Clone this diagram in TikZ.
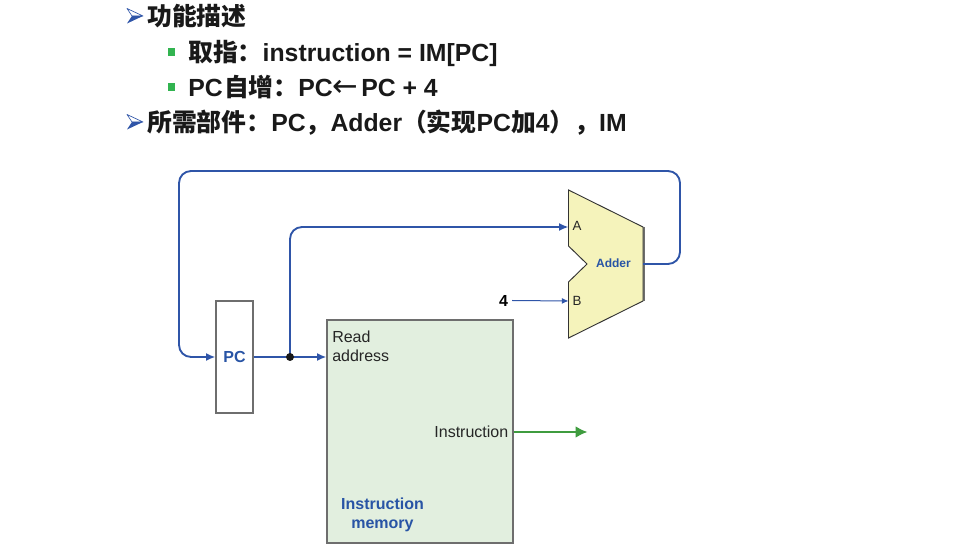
\documentclass[tikz,border=0pt]{standalone}
\usepackage{fontspec}
\usetikzlibrary{arrows.meta}
\setmainfont{Liberation Sans}
\newfontfamily\cjk{Noto Sans CJK SC}
\newcommand{\zh}[1]{{\cjk #1}}
\definecolor{busblue}{RGB}{47,85,168}
\definecolor{labelblue}{RGB}{40,84,165}
\definecolor{addfill}{RGB}{245,243,187}
\definecolor{memfill}{RGB}{226,239,223}
\definecolor{outgreen}{RGB}{63,156,63}
\definecolor{edgegray}{RGB}{110,110,110}
\definecolor{bulgreen}{RGB}{50,180,80}
\tikzset{
	headline/.style={anchor=west, inner sep=0pt, text height=19pt, text depth=4pt, font=\fontsize{18.6}{22}\selectfont\bfseries, text=black!90},
	unitlabel/.style={font=\fontsize{12}{14.25}\selectfont\bfseries, text=labelblue, align=center, inner sep=0pt},
	portlabel/.style={font=\fontsize{12}{14.25}\selectfont, text=black!85, inner sep=0pt, align=left},
	smalllabel/.style={font=\fontsize{10}{12}\selectfont, text=black!85, inner sep=0pt},
	bus/.style={draw=busblue, line width=1.4pt, -{Latex[length=7pt,width=6pt]}},
	bullet/.style={fill=bulgreen, minimum size=5.5pt, inner sep=0pt}
}
\begin{document}
\begin{tikzpicture}[x=0.75pt, y=-0.75pt]
	\useasboundingbox (0,0) rectangle (976,556);

	% Text lines at the top
	\foreach \ypos in {16, 122} {
		\draw [busblue, fill=white, line width=0.5pt, line join=round] (127,\ypos-7.5) -- (143,\ypos) -- (132,\ypos) -- cycle;
		\fill [busblue] (143,\ypos) -- (127,\ypos+7.5) -- (132,\ypos) -- cycle;
	}
	\node [headline] (lineone) at (147,16) {\zh{功能描述}};
	\node [bullet] (bulone) at (171.5,52) {};
	\node [headline] (linetwo) at (188,52) {\zh{取指：}instruction = IM[PC]};
	\node [bullet] (bultwo) at (171.5,87) {};
	\node [headline] (linethree) at (188,87) {PC\kern1pt\zh{自增：}PC{\fontspec{DejaVu Sans}\mdseries\fontsize{23}{22}\selectfont←}\kern2pt PC + 4};
	\node [headline] (linefour) at (147,122) {\zh{所需部件：}PC\zh{，}Adder\zh{（实现}PC\zh{加}4\zh{），}IM};

	% The two boxes
	\node [draw=edgegray, fill=white, line width=0.8pt, minimum width=27.75pt, minimum height=84pt, inner sep=0pt] (pc) at (234.5,357) {};
	\node [unitlabel] (pclabel) at (pc.center) {PC};
	\node [draw=edgegray, fill=memfill, line width=0.8pt, minimum width=139.5pt, minimum height=167.25pt, inner sep=0pt] (im) at (420,431.5) {};
	\node [portlabel, anchor=north west] (readaddr) at (332,331) {Read\\address};
	\node [portlabel, anchor=east] (instr) at (508.5,432) {Instruction};
	\node [unitlabel] (imlabel) at (382.5,514.5) {Instruction\\memory};

	% Adder outline
	\coordinate (porta) at (568.5,227);
	\coordinate (portb) at (568.5,301);
	\coordinate (addout) at (643,264);
	\draw [edgegray, line width=2pt] (643.5,227) -- (643.5,301);
	\draw [fill=addfill, draw=black!80, line width=0.7pt] (568.5,190) -- (643,227) -- (643,301) -- (568.5,338) -- (568.5,282) -- (587,264) -- (568.5,246) -- cycle;
	\node [smalllabel] (alabel) at (577,226) {A};
	\node [smalllabel] (blabel) at (577,300.5) {B};
	\node [unitlabel, font=\fontsize{9}{11}\selectfont\bfseries] (addlabel) at (613.5,263) {Adder};
	\node [font=\fontsize{12}{14}\selectfont\bfseries, inner sep=0pt] (four) at (503.5,300.5) {4};

	% Connectors
	\coordinate (fbright) at (680,171);
	\coordinate (fbleft) at (179,171);
	\coordinate (branch) at (290,357);
	\draw [bus, rounded corners=9pt] (addout) -- (fbright |- addout) -- (fbright) -- (fbleft) -- (fbleft |- pc.west) -- (pc.west);
	\draw [bus] (pc.east) -- (im.west |- pc.east);
	\draw [bus, rounded corners=9pt] (branch) -- (branch |- porta) -- (porta);
	\fill [black!90] (branch) circle (3pt);
	\draw [draw=busblue, line width=0.75pt, -{Latex[length=5pt,width=4.5pt]}] (four.east) ++(4,0) -- (portb);
	\draw [draw=outgreen, line width=2.2pt, -{Latex[length=9pt,width=9pt]}] (im.east |- instr) -- ++(74,0) coordinate (instrend);
\end{tikzpicture}
\end{document}
